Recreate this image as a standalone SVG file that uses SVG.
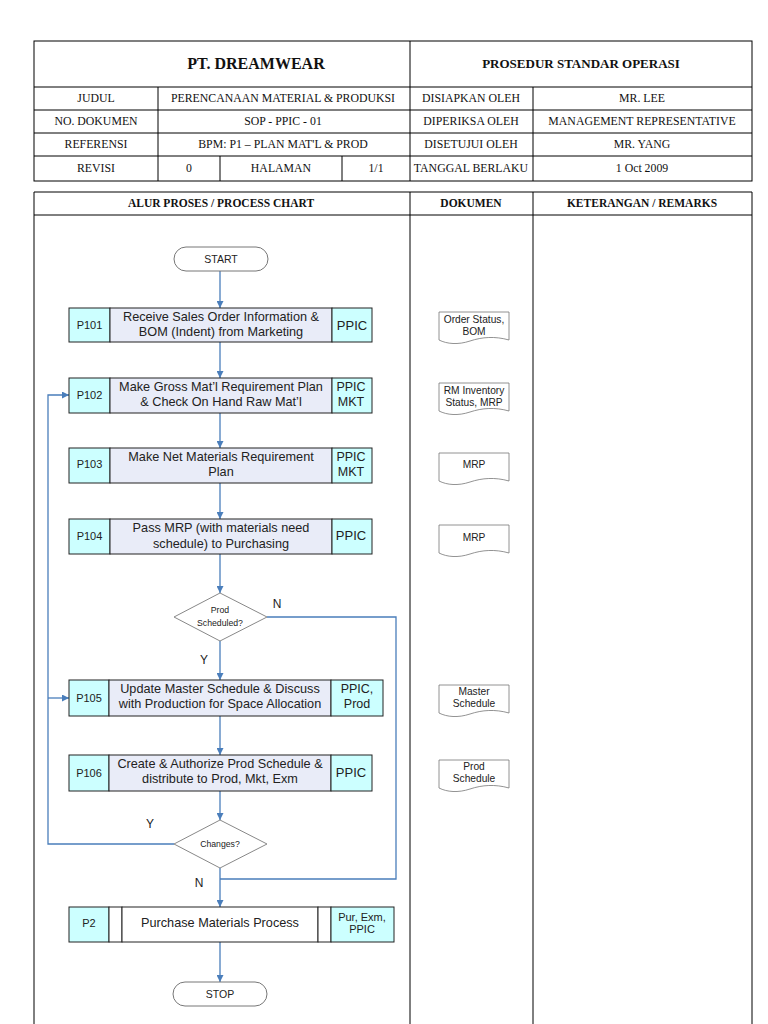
<svg xmlns="http://www.w3.org/2000/svg" width="768" height="1024" viewBox="0 0 768 1024">
<style>
.t{font-family:"Liberation Serif","Times New Roman",serif;font-size:11.8px;fill:#111;text-anchor:middle}
.tb{font-family:"Liberation Serif","Times New Roman",serif;font-weight:bold;fill:#111;text-anchor:middle}
.s{font-family:"Liberation Sans",Arial,sans-serif;fill:#222;text-anchor:middle}
.p{font-size:12.7px}
.d{font-size:10.2px}
.grid{stroke:#000;stroke-width:1;fill:none}
.id{fill:#CCFFFF;stroke:#222;stroke-width:1}
.tx{fill:#E9ECF8;stroke:#222;stroke-width:1}
.wh{fill:#fff;stroke:#222;stroke-width:1}
.term{fill:#fff;stroke:#777;stroke-width:1}
.doc{fill:#fff;stroke:#777;stroke-width:0.8}
.con{stroke:#4A7EBB;stroke-width:1.3;fill:none}
</style>
<defs>
<marker id="ah" viewBox="0 0 10 10" refX="10" refY="5" markerWidth="7" markerHeight="7" orient="auto" markerUnits="userSpaceOnUse">
<path d="M0,0 L10,5 L0,10 z" fill="#4A7EBB"/>
</marker>
</defs>
<rect width="768" height="1024" fill="#fff"/>
<!-- header table -->
<g id="header">
<rect x="34" y="41" width="718" height="140" class="grid" stroke-width="1.5"/>
<line x1="410" y1="41" x2="410" y2="181" class="grid"/>
<line x1="34" y1="87" x2="752" y2="87" class="grid"/>
<line x1="34" y1="110" x2="752" y2="110" class="grid"/>
<line x1="34" y1="133" x2="752" y2="133" class="grid"/>
<line x1="34" y1="156" x2="752" y2="156" class="grid"/>
<line x1="158" y1="87" x2="158" y2="181" class="grid"/>
<line x1="220" y1="156" x2="220" y2="181" class="grid"/>
<line x1="342" y1="156" x2="342" y2="181" class="grid"/>
<line x1="533" y1="87" x2="533" y2="181" class="grid"/>
<text x="256" y="69" class="tb" font-size="16">PT. DREAMWEAR</text>
<text x="581" y="68" class="tb" font-size="13">PROSEDUR STANDAR OPERASI</text>
<text x="96" y="102" class="t">JUDUL</text>
<text x="283" y="102" class="t">PERENCANAAN MATERIAL &amp; PRODUKSI</text>
<text x="96" y="125" class="t">NO. DOKUMEN</text>
<text x="283" y="125" class="t">SOP - PPIC - 01</text>
<text x="96" y="148" class="t">REFERENSI</text>
<text x="283" y="148" class="t">BPM: P1 – PLAN MAT'L &amp; PROD</text>
<text x="96" y="172" class="t">REVISI</text>
<text x="189" y="172" class="t">0</text>
<text x="281" y="172" class="t">HALAMAN</text>
<text x="376" y="172" class="t">1/1</text>
<text x="471" y="102" class="t">DISIAPKAN OLEH</text>
<text x="642" y="102" class="t">MR. LEE</text>
<text x="471" y="125" class="t">DIPERIKSA OLEH</text>
<text x="642" y="125" class="t">MANAGEMENT REPRESENTATIVE</text>
<text x="471" y="148" class="t">DISETUJUI OLEH</text>
<text x="642" y="148" class="t">MR. YANG</text>
<text x="471" y="172" class="t">TANGGAL BERLAKU</text>
<text x="642" y="172" class="t">1 Oct  2009</text>
</g>
<!-- process chart table -->
<g id="chart-table">
<path d="M34,1030 V192 H752 V1030" class="grid" stroke-width="1.5"/>
<line x1="34" y1="215" x2="752" y2="215" class="grid"/>
<line x1="410" y1="192" x2="410" y2="1030" class="grid"/>
<line x1="533" y1="192" x2="533" y2="1030" class="grid"/>
<text x="221" y="207" class="tb" font-size="11.5">ALUR PROSES / PROCESS CHART</text>
<text x="471" y="207" class="tb" font-size="11.5">DOKUMEN</text>
<text x="642" y="207" class="tb" font-size="11.5">KETERANGAN / REMARKS</text>
</g>
<!-- connectors -->
<g id="connectors">
<line x1="220" y1="271" x2="220" y2="308" class="con" marker-end="url(#ah)"/>
<line x1="220" y1="342" x2="220" y2="378" class="con" marker-end="url(#ah)"/>
<line x1="220" y1="413" x2="220" y2="448" class="con" marker-end="url(#ah)"/>
<line x1="220" y1="483" x2="220" y2="519" class="con" marker-end="url(#ah)"/>
<line x1="220" y1="554" x2="220" y2="593" class="con" marker-end="url(#ah)"/>
<line x1="220" y1="641" x2="220" y2="680" class="con" marker-end="url(#ah)"/>
<line x1="220" y1="716" x2="220" y2="755" class="con" marker-end="url(#ah)"/>
<line x1="220" y1="791" x2="220" y2="820" class="con" marker-end="url(#ah)"/>
<line x1="220" y1="868" x2="220" y2="907" class="con" marker-end="url(#ah)"/>
<line x1="220" y1="942" x2="220" y2="982" class="con" marker-end="url(#ah)"/>
<polyline points="267,617 396,617 396,879 220,879" class="con"/>
<polyline points="174,844 48,844 48,395 69,395" class="con" marker-end="url(#ah)"/>
<line x1="48" y1="698" x2="69" y2="698" class="con" marker-end="url(#ah)"/>
<text x="277" y="608" class="s" font-size="12">N</text>
<text x="204" y="664" class="s" font-size="12">Y</text>
<text x="150" y="828" class="s" font-size="12">Y</text>
<text x="199" y="887" class="s" font-size="12">N</text>
</g>
<!-- nodes -->
<g id="start">
<rect x="174" y="247" width="94" height="24" rx="12" class="term"/>
<text x="221" y="262.5" class="s" font-size="10.5">START</text>
</g>
<g id="P101">
<rect x="69" y="308" width="41" height="34" class="id"/>
<rect x="110" y="308" width="222" height="34" class="tx"/>
<rect x="332" y="308" width="40" height="34" class="id"/>
<text x="89.5" y="329" class="s" font-size="11">P101</text>
<text x="221" y="321" class="s p">Receive Sales Order Information &amp;</text>
<text x="221" y="336" class="s p">BOM (Indent) from Marketing</text>
<text x="352" y="330" class="s" font-size="13">PPIC</text>
</g>
<g id="P102">
<rect x="69" y="378" width="41" height="35" class="id"/>
<rect x="110" y="378" width="222" height="35" class="tx"/>
<rect x="332" y="378" width="40" height="35" class="id"/>
<text x="89.5" y="399" class="s" font-size="11">P102</text>
<text x="221" y="391" class="s p">Make Gross Mat’l Requirement Plan</text>
<text x="221" y="406" class="s p">&amp; Check On Hand Raw Mat’l</text>
<text x="351" y="391" class="s" font-size="12.5">PPIC</text>
<text x="351" y="406" class="s" font-size="12.5">MKT</text>
</g>
<g id="P103">
<rect x="69" y="448" width="41" height="35" class="id"/>
<rect x="110" y="448" width="222" height="35" class="tx"/>
<rect x="332" y="448" width="40" height="35" class="id"/>
<text x="89.5" y="468" class="s" font-size="11">P103</text>
<text x="221" y="461" class="s p">Make Net Materials Requirement</text>
<text x="221" y="476" class="s p">Plan</text>
<text x="351" y="461" class="s" font-size="12.5">PPIC</text>
<text x="351" y="476" class="s" font-size="12.5">MKT</text>
</g>
<g id="P104">
<rect x="69" y="519" width="41" height="35" class="id"/>
<rect x="110" y="519" width="222" height="35" class="tx"/>
<rect x="332" y="519" width="40" height="35" class="id"/>
<text x="89.5" y="540" class="s" font-size="11">P104</text>
<text x="221" y="532" class="s p">Pass MRP (with materials need</text>
<text x="221" y="548" class="s p">schedule) to Purchasing</text>
<text x="351" y="540" class="s" font-size="13">PPIC</text>
</g>
<g id="D1">
<polygon points="220,593 267,617 220,641 174,617" fill="#fff" stroke="#888" stroke-width="1"/>
<text x="220" y="613" class="s" font-size="8.7">Prod</text>
<text x="220" y="626" class="s" font-size="8.7">Scheduled?</text>
</g>
<g id="P105">
<rect x="69" y="680" width="40" height="36" class="id"/>
<rect x="109" y="680" width="222" height="36" class="tx"/>
<rect x="331" y="680" width="52" height="36" class="id"/>
<text x="89" y="702" class="s" font-size="11">P105</text>
<text x="220" y="693" class="s p">Update Master Schedule &amp; Discuss</text>
<text x="220" y="708" class="s p">with Production for Space Allocation</text>
<text x="357" y="693" class="s" font-size="12.5">PPIC,</text>
<text x="357" y="708" class="s" font-size="12.5">Prod</text>
</g>
<g id="P106">
<rect x="69" y="755" width="40" height="36" class="id"/>
<rect x="109" y="755" width="222" height="36" class="tx"/>
<rect x="331" y="755" width="41" height="36" class="id"/>
<text x="89" y="777" class="s" font-size="11">P106</text>
<text x="220" y="768" class="s p">Create &amp; Authorize Prod Schedule &amp;</text>
<text x="220" y="783" class="s p">distribute to Prod, Mkt, Exm</text>
<text x="351" y="777" class="s" font-size="13">PPIC</text>
</g>
<g id="D2">
<polygon points="220,820 267,844 220,868 174,844" fill="#fff" stroke="#888" stroke-width="1"/>
<text x="220" y="847" class="s" font-size="8.7">Changes?</text>
</g>
<g id="P2">
<rect x="69" y="907" width="40" height="35" class="id"/>
<rect x="109" y="907" width="13" height="35" class="wh"/>
<rect x="122" y="907" width="196" height="35" class="wh"/>
<rect x="318" y="907" width="13" height="35" class="wh"/>
<rect x="331" y="907" width="63" height="35" class="id"/>
<text x="89" y="927" class="s" font-size="11">P2</text>
<text x="220" y="927" class="s p">Purchase Materials Process</text>
<text x="362" y="921" class="s" font-size="11">Pur, Exm,</text>
<text x="362" y="933" class="s" font-size="11">PPIC</text>
</g>
<g id="stop">
<rect x="173" y="982" width="94" height="24" rx="12" class="term"/>
<text x="220" y="997.5" class="s" font-size="10.5">STOP</text>
</g>
<!-- documents -->
<g id="doc1">
<path d="M439,312 H509 V340 C495,336 482,337 470,341 C458,345 447,344 439,340 Z" class="doc"/>
<text x="474" y="323" class="s d">Order Status,</text>
<text x="474" y="335" class="s d">BOM</text>
</g>
<g id="doc2">
<path d="M439,383 H509 V411 C495,407 482,408 470,412 C458,416 447,415 439,411 Z" class="doc"/>
<text x="474" y="394" class="s d">RM Inventory</text>
<text x="474" y="406" class="s d">Status,  MRP</text>
</g>
<g id="doc3">
<path d="M439,453 H509 V481 C495,477 482,478 470,482 C458,486 447,485 439,481 Z" class="doc"/>
<text x="474" y="468" class="s d">MRP</text>
</g>
<g id="doc4">
<path d="M439,525 H509 V553 C495,549 482,550 470,554 C458,558 447,557 439,553 Z" class="doc"/>
<text x="474" y="541" class="s d">MRP</text>
</g>
<g id="doc5">
<path d="M439,685 H509 V713 C495,709 482,710 470,714 C458,718 447,717 439,713 Z" class="doc"/>
<text x="474" y="695" class="s d">Master</text>
<text x="474" y="707" class="s d">Schedule</text>
</g>
<g id="doc6">
<path d="M439,760 H509 V788 C495,784 482,785 470,789 C458,793 447,792 439,788 Z" class="doc"/>
<text x="474" y="770" class="s d">Prod</text>
<text x="474" y="782" class="s d">Schedule</text>
</g>
</svg>
